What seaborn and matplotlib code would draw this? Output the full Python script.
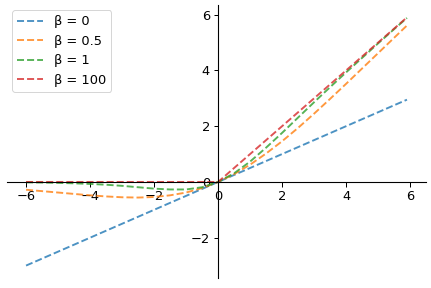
import matplotlib
matplotlib.use("Agg")
import matplotlib.pyplot as plt
import seaborn as sns
import pandas as pd

x = [-6, -5.5, -5, -4.5, -4, -3.5, -3, -2.5, -2, -1.5, -1, -0.5, 0,
     0.5, 1, 1.5, 2, 2.5, 3, 3.5, 4, 4.5, 5, 5.5, 5.9]
beta_0 = [-3.0, -2.75, -2.5, -2.25, -2.0, -1.75, -1.5, -1.25, -1.0, -0.75, -0.5, -0.25, 0.0,
          0.25, 0.5, 0.75, 1.0, 1.25, 1.5, 1.75, 2.0, 2.25, 2.5, 2.75, 2.95]
beta_05 = [-0.28, -0.33, -0.38, -0.43, -0.48, -0.52, -0.55, -0.56, -0.54, -0.48, -0.38, -0.22, 0.0,
           0.28, 0.62, 1.02, 1.46, 1.94, 2.45, 2.98, 3.52, 4.07, 4.62, 5.17, 5.61]
beta_1 = [-0.015, -0.022, -0.034, -0.05, -0.072, -0.10, -0.14, -0.19, -0.24, -0.27, -0.27, -0.19, 0.0,
          0.31, 0.73, 1.23, 1.76, 2.31, 2.86, 3.40, 3.93, 4.45, 4.97, 5.48, 5.88]
beta_100 = [0.0, 0.0, 0.0, 0.0, 0.0, 0.0, 0.0, 0.0, 0.0, 0.0, 0.0, 0.0, 0.0,
            0.5, 1.0, 1.5, 2.0, 2.5, 3.0, 3.5, 4.0, 4.5, 5.0, 5.5, 5.9]
labels = ["β = 0", "β = 0.5", "β = 1", "β = 100"]
series = [beta_0, beta_05, beta_1, beta_100]
colors = ["#1f77b4", "#ff7f0e", "#2ca02c", "#d62728"]

fig = plt.figure(figsize=(431 / 72, 288 / 72), dpi=72)
ax = fig.add_axes([7 / 431, 1 - 278 / 288, 419 / 431, 273 / 288])

for lab, ys, c in zip(labels, series, colors):
    df = pd.DataFrame({"x": x, "y": ys})
    sns.lineplot(data=df, x="x", y="y", ax=ax, label=lab, color=c,
                 linestyle="--", alpha=0.8, linewidth=1.9)

ax.spines["left"].set_position("zero")
ax.spines["bottom"].set_position("zero")
ax.spines["top"].set_visible(False)
ax.spines["right"].set_visible(False)
for s in ("left", "bottom"):
    ax.spines[s].set_linewidth(1.1)
ax.set_xlabel("")
ax.set_ylabel("")
ax.set_xticks([-6, -4, -2, 0, 2, 4, 6])
ax.set_yticks([-2, 0, 2, 4, 6])
ax.tick_params(labelsize=13, length=4.5, width=1.0)
ax.legend(loc="upper left", fontsize=13, borderaxespad=0.4)

fig.savefig("out.png", dpi=72)
